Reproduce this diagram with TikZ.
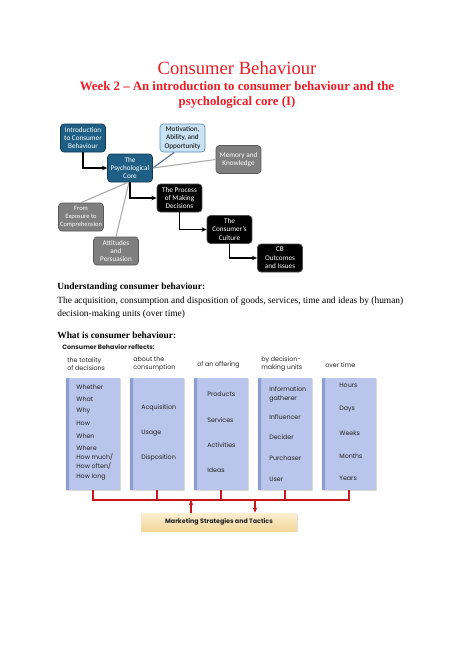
\documentclass[tikz,border=0pt]{standalone}
\usepackage{fontspec}
\setmainfont{Liberation Serif}
\newfontfamily\calibrifont{Carlito}
\newfontfamily\futurafont{Poppins}
\usetikzlibrary{arrows.meta,positioning,calc,shadows}
\definecolor{TitleRed}{HTML}{EE1C25}
\definecolor{CoreBlue}{HTML}{1F5F85}
\definecolor{PaleBlue}{HTML}{C9E3F5}
\definecolor{PaleEdge}{HTML}{5B8DB8}
\definecolor{BoxGray}{HTML}{7F7F7F}
\definecolor{LinkGray}{HTML}{A9A9A9}
\definecolor{LinkBlue}{HTML}{4F6D8A}
\definecolor{Periwinkle}{HTML}{B9C5EA}
\definecolor{PeriEdge}{HTML}{8C9CD2}
\definecolor{BusRed}{HTML}{C8161D}
\definecolor{SandTop}{HTML}{FBEFD2}
\definecolor{SandBottom}{HTML}{F2D69A}
\definecolor{Ink}{HTML}{222222}

\begin{document}
\begin{tikzpicture}[x=0.02cm,y=-0.02cm,>={Stealth[length=3pt,width=2.6pt]},
  topic/.style={rounded corners=2pt,minimum width=0.9cm,minimum height=0.56cm,
    inner sep=0.5pt,align=center,line width=0.4pt,
    font=\calibrifont\fontsize{4.1}{4.8}\selectfont},
  bluetopic/.style={topic,fill=CoreBlue,draw=CoreBlue!60!black,text=white},
  paletopic/.style={topic,fill=PaleBlue,draw=PaleEdge,text=black},
  graytopic/.style={topic,fill=BoxGray,draw=BoxGray!70!black,text=white},
  blacktopic/.style={topic,fill=black,draw=black!70,text=white},
  flow/.style={->,line width=0.6pt,black},
  spoke/.style={line width=0.6pt,LinkGray},
  column/.style={minimum width=1.08cm,minimum height=2.24cm,inner sep=0pt,
    fill=Periwinkle,drop shadow={shadow xshift=0.4pt,shadow yshift=-0.7pt,fill=black!30},
    path picture={\shade[left color=PeriEdge,right color=Periwinkle]
      (path picture bounding box.north west) rectangle
      ([xshift=1.8pt]path picture bounding box.south west);}},
  head/.style={anchor=west,align=left,inner sep=0pt,text=Ink,
    font=\futurafont\fontsize{3.6}{4.5}\selectfont},
  item/.style={anchor=west,align=left,inner sep=0pt,text=Ink,
    font=\futurafont\fontsize{3.6}{3.4}\selectfont},
  bus/.style={line width=1.1pt,BusRed},
  prose/.style={anchor=west,align=left,inner sep=0pt,text=black,
    font=\fontsize{5.35}{7.4}\selectfont}]

  \useasboundingbox[fill=white] (0,0) rectangle (474,670);

  % Heading of the page.
  \node[TitleRed,font=\fontsize{10.6}{12}\selectfont] (title) at (237,68) {Consumer Behaviour};
  \node[TitleRed,align=center,font=\bfseries\fontsize{7.3}{9}\selectfont] (subtitle) at (237,95)
    {Week 2 -- An introduction to consumer behaviour and the\\psychological core (I)};

  % Map of the course topics.
  \node[bluetopic] (intro) at (83,138) {Introduction\\to Consumer\\Behaviour};
  \node[paletopic] (motiv) at (182.5,138) {Motivation,\\Ability, and\\Opportunity};
  \node[graytopic] (memory) at (238.5,159.5) {Memory and\\Knowledge};
  \node[bluetopic] (core) at (130,168) {The\\Psychological\\Core};
  \node[blacktopic] (process) at (179.5,198) {The Process\\of Making\\Decisions};
  \node[graytopic,font=\calibrifont\fontsize{3.7}{4.8}\selectfont] (exposure) at (81,217) {From\\Exposure to\\Comprehension};
  \node[blacktopic] (culture) at (229.5,229.5) {The\\Consumer’s\\Culture};
  \node[graytopic] (attitudes) at (116,251) {Attitudes\\and\\Persuasion};
  \node[blacktopic] (outcomes) at (280,258) {CB\\Outcomes\\and Issues};

  \draw[spoke,LinkBlue] (core.east) -- (motiv.240);
  \draw[spoke] (core.east) -- (memory.west);
  \draw[spoke] (core.262) -- (exposure.north);
  \draw[spoke] (core.266) -- (attitudes.north);

  \draw[flow] (intro.south) |- (core.west);
  \draw[flow] (core.south) |- (process.west);
  \draw[flow] (process.south) |- (culture.west);
  \draw[flow] (culture.south) |- (outcomes.west);

  % Definition in running text.
  \node[prose,font=\bfseries\fontsize{5.35}{7.4}\selectfont] (understand) at (57,287) {Understanding consumer behaviour:};
  \node[prose,anchor=north west] (definition) at (57,297)
    {The acquisition, consumption and disposition of goods, services, time and ideas by (human)\\decision-making units (over time)};
  \node[prose,font=\bfseries\fontsize{5.35}{7.4}\selectfont] (whatis) at (57,335) {What is consumer behaviour:};

  % Five columns of what consumer behaviour reflects.
  \node[head,font=\futurafont\bfseries\fontsize{3.6}{4.5}\selectfont] (reflects) at (62,347) {Consumer Behavior reflects:};
  \node[head] (h1) at (67,364) {the totality\\of decisions};
  \node[head] (h2) at (133,364) {about the\\consumption};
  \node[head] (h3) at (197,365) {of an offering};
  \node[head] (h4) at (261,364) {by decision-\\making units};
  \node[head] (h5) at (325,365) {over time};

  \node[column] (c1) at (93,434) {};
  \node[column] (c2) at (157,434) {};
  \node[column] (c3) at (221,434) {};
  \node[column] (c4) at (285,434) {};
  \node[column] (c5) at (349,434) {};

  \node[item] (whether) at (76,387) {Whether};
  \node[item] (what) at (76,399) {What};
  \node[item] (why) at (76,411) {Why};
  \node[item] (how) at (76,423) {How};
  \node[item] (when) at (76,436) {When};
  \node[item] (where) at (76,448) {Where};
  \node[item,font=\futurafont\fontsize{3.6}{5.5}\selectfont] (howmuch) at (76,466.7) {How much/\\How often/\\How long};

  \node[item] (acquisition) at (141,408) {Acquisition};
  \node[item] (usage) at (141,433) {Usage};
  \node[item] (disposition) at (141,458) {Disposition};

  \node[item] (products) at (207,394) {Products};
  \node[item] (services) at (207,420) {Services};
  \node[item] (activities) at (207,445) {Activities};
  \node[item] (ideas) at (207,470) {Ideas};

  \node[item,font=\futurafont\fontsize{3.6}{5.5}\selectfont] (gatherer) at (269,394.5) {Information\\gatherer};
  \node[item] (influencer) at (269,417) {Influencer};
  \node[item] (decider) at (269,437) {Decider};
  \node[item] (purchaser) at (269,458) {Purchaser};
  \node[item] (user) at (269,479) {User};

  \node[item] (hours) at (339,385) {Hours};
  \node[item] (days) at (339,409) {Days};
  \node[item] (weeks) at (339,433) {Weeks};
  \node[item] (months) at (339,456) {Months};
  \node[item] (years) at (339,478) {Years};

  % Red bus joining the columns to marketing.
  \node[minimum width=3.12cm,minimum height=0.36cm,inner sep=0pt,
    top color=SandTop,bottom color=SandBottom,
    drop shadow={shadow xshift=0.4pt,shadow yshift=-0.7pt,fill=black!25},
    font=\futurafont\bfseries\fontsize{3.6}{4.5}\selectfont,text=Ink]
    (marketing) at (219,522) {Marketing Strategies and Tactics};

  \coordinate (busline) at (0,500);
  \coordinate (upx) at (191,0);
  \coordinate (downx) at (255,0);
  \draw[bus] (c1.south) -- (c1.south |- busline) -- (c5.south |- busline) -- (c5.south);
  \draw[bus] (c2.south) -- (c2.south |- busline);
  \draw[bus] (c3.south) -- (c3.south |- busline);
  \draw[bus] (c4.south) -- (c4.south |- busline);
  \draw[bus,->] (marketing.north -| upx) -- (upx |- busline);
  \draw[bus,->] (downx |- busline) -- (marketing.north -| downx);
\end{tikzpicture}
\end{document}
